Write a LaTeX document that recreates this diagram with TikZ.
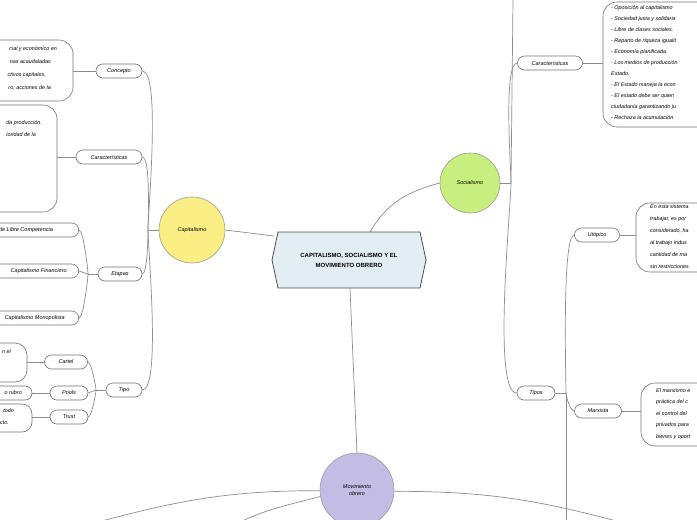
\documentclass[tikz,border=0pt]{standalone}
\usepackage{fontspec}
\setmainfont{Liberation Sans}
\definecolor{cenfill}{HTML}{E2EEF3}
\definecolor{capfill}{HTML}{FBEE84}
\definecolor{socfill}{HTML}{C8EF7D}
\definecolor{movfill}{HTML}{C3BDE5}
\begin{document}
\begin{tikzpicture}[x=1pt,y=-1pt,
  con/.style={draw=black!45,line width=0.7pt},
  pill/.style={draw=black!55,fill=white,rounded corners=7pt,line width=0.6pt,minimum height=14pt,inner sep=0pt,font=\fontsize{5.5}{6}\selectfont\itshape},
  txtbox/.style={draw=black!55,fill=white,rounded corners=14pt,line width=0.6pt},
  tl/.style={font=\fontsize{5.4}{6}\selectfont\itshape,inner sep=0pt},
  circ/.style={circle,draw=black!40,line width=0.6pt,inner sep=0pt,font=\fontsize{5.5}{7}\selectfont\itshape,align=center}]
\useasboundingbox (0,0) rectangle (697,520);
\fill[white] (0,0) rectangle (697,520);
% central
\draw[fill=cenfill,draw=black!70,line width=0.8pt] (278,232) -- (420,232) -- (426,260) -- (420,288) -- (278,288) -- (272,260) -- cycle;
\node[align=center,font=\fontsize{6}{10}\selectfont\bfseries] (cen) at (349,260) {CAPITALISMO, SOCIALISMO Y EL\\MOVIMIENTO OBRERO};
\coordinate (cenL) at (274,236);
\coordinate (cenT) at (370,232);
\coordinate (cenB) at (350,288);
% main circles
\node[circ,fill=capfill,minimum size=66pt] (cap) at (192,230) {Capitalismo};
\node[circ,fill=socfill,minimum size=60pt] (soc) at (470,183) {Socialismo};
\node[circ,fill=movfill,minimum size=74pt] (mov) at (357,490) {Movimiento\\obrero};
\draw[con] (cap.east) -- (cenL);
\draw[con] (cenT) to[out=60,in=195] (soc.west);
\draw[con] (cenB) -- (mov.north);
% Capitalismo children
\node[pill,minimum width=46pt] (concepto) at (119,71) {Concepto};
\node[pill,minimum width=66pt] (caract) at (109,157) {Características};
\node[pill,minimum width=44pt] (etapas) at (120,274) {Etapas};
\node[pill,minimum width=36pt] (tipo) at (124,390) {Tipo};
\coordinate (cb) at (148,230);
\draw[con] (cap.west) -- (cb);
\foreach \n in {concepto,caract}{\draw[con] (cb) to[out=90,in=0,looseness=0.3] (\n.east);}
\draw[con] (cb) to[out=-90,in=0,looseness=0.3] (etapas.east);
\draw[con] (cb) to[out=-90,in=0,looseness=0.3] (tipo.east);
% concepto box
\draw[txtbox] (-30,40) rectangle (73,101);
\node[tl,anchor=east] (c1) at (57,49) {cial y económico en};
\node[tl,anchor=east] (c2) at (51,62) {nas acaudaladas};
\node[tl,anchor=east] (c3) at (46,75) {ctivos capitales,};
\node[tl,anchor=east] (c4) at (51,88) {ro, acciones de la};
\coordinate (cboxR) at (73,71);
\draw[con] (concepto.west) -- (cboxR);
\draw[txtbox] (-30,105) rectangle (57,212);
\node[tl,anchor=east] (k1) at (42,123) {da producción.};
\node[tl,anchor=east] (k2) at (36,135) {ioridad de la};
\coordinate (kboxR) at (57,157);
\draw[con] (caract.west) -- (kboxR);
% etapas
\node[pill,minimum width=110pt,anchor=east] (e1) at (79,230) {o de Libre Competencia\hspace{14pt}};
\node[pill,minimum width=110pt,anchor=east] (e2) at (79,271) {\hspace{30pt}Capitalismo Financiero};
\node[pill,minimum width=110pt,anchor=east] (e3) at (79,318) {\hspace{22pt}Capitalismo Monopolista};
\coordinate (eb) at (88,274);
\draw[con] (etapas.west) -- (eb);
\draw[con] (eb) to[out=90,in=0,looseness=0.25] (e1.east);
\draw[con] (eb) -- (e2.east);
\draw[con] (eb) to[out=-90,in=0,looseness=0.25] (e3.east);
% tipo
\node[pill,minimum width=43pt] (cartel) at (66,362) {Cartel};
\node[pill,minimum width=38pt] (pools) at (69,393) {Pools};
\node[pill,minimum width=38pt] (trust) at (69,417) {Trust};
\coordinate (tb) at (96,390);
\draw[con] (tipo.west) -- (tb);
\draw[con] (tb) to[out=90,in=0,looseness=0.3] (cartel.east);
\draw[con] (tb) -- (pools.east);
\draw[con] (tb) to[out=-90,in=0,looseness=0.3] (trust.east);
\draw[txtbox,rounded corners=12pt] (-30,343) rectangle (27,382);
\node[tl,anchor=east] (ca1) at (11,352) {n el};
\draw[txtbox,rounded corners=7pt] (-30,386) rectangle (32,400);
\node[tl,anchor=east] (po1) at (22,393) {o rubro};
\draw[txtbox,rounded corners=10pt] (-30,404) rectangle (32,432);
\node[tl,anchor=east] (tr1) at (14,411) {todo};
\node[tl,anchor=east] (tr2) at (9,423) {cto.};
\coordinate (caR) at (27,362);\coordinate (poR) at (32,393);\coordinate (trR) at (32,417);
\draw[con] (cartel.west) -- (caR);
\draw[con] (pools.west) -- (poR);
\draw[con] (trust.west) -- (trR);
% Socialismo children
\coordinate (sb) at (511,183);
\coordinate (stop) at (513,0);
\node[pill,minimum width=65pt] (scar) at (550,63) {Características};
\node[pill,minimum width=38pt] (stipos) at (536,393) {Tipos};
\draw[con] (soc.east) -- (sb);
\draw[con] (sb) -- (stop);
\draw[con] (sb) to[out=90,in=180,looseness=0.3] (scar.west);
\draw[con] (sb) to[out=-90,in=180,looseness=0.3] (stipos.west);
\draw[txtbox] (603,2) rectangle (730,127);
\coordinate (sbl) at (603,63);
\draw[con] (scar.east) -- (sbl);
\foreach \t [count=\i] in {- Oposición al capitalismo,- Sociedad justa y solidaria,- Libre de clases sociales.,- Reparto de riqueza igualit,- Economía planificada.,- Los medios de producción,Estado.,- El Estado maneja la econ,- El estado debe ser quien,ciudadanía garantizando ju,- Rechaza la acumulación}
  {\node[tl,anchor=west] (sl\i) at (611,{8+11*(\i-1)}) {\t};}
% tipos
\node[pill,minimum width=45pt] (uto) at (597,235) {Utópico};
\node[pill,minimum width=47pt] (mar) at (598,411) {Marxista};
\coordinate (tb2) at (566,393);
\coordinate (tbend) at (566,520);
\draw[con] (stipos.east) -- (tb2);
\draw[con] (tb2) to[out=90,in=180,looseness=0.2] (uto.west);
\draw[con] (tb2) to[out=-90,in=180,looseness=0.5] (mar.west);
\draw[con] (tb2) -- (tbend);
\draw[txtbox] (636,203) rectangle (730,272);
\coordinate (ubl) at (636,235);
\draw[con] (uto.east) -- (ubl);
\foreach \t [count=\i] in {En esta sistema,{trabajar, es por},{considerado, ha},al trabajo indus,cantidad de ma,sin restricciones}
  {\node[tl,anchor=west] (ul\i) at (650,{207+12*(\i-1)}) {\t};}
\draw[txtbox] (641,383) rectangle (730,446);
\coordinate (mbl) at (641,411);
\draw[con] (mar.east) -- (mbl);
\foreach \t [count=\i] in {El marxismo e,práctica del c,el control del,privados para,bienes y oport}
  {\node[tl,anchor=west] (ml\i) at (656,{391+11.5*(\i-1)}) {\t};}
% movimiento obrero branches
\coordinate (m1) at (98,522);
\coordinate (m2) at (240,522);
\coordinate (m3) at (620,522);
\draw[con] (mov.181) to[out=180,in=15] (m1);
\draw[con] (mov.190) to[out=195,in=25] (m2);
\draw[con] (mov.-2) to[out=0,in=165] (m3);
\end{tikzpicture}
\end{document}
